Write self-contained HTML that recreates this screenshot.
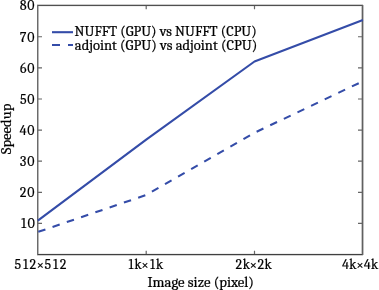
<!DOCTYPE html>
<html><head><meta charset="utf-8">
<style>
html,body{margin:0;padding:0;background:#fff;width:379px;height:290px;overflow:hidden}
svg{display:block}
text{font-family:"Caladea","Liberation Serif",serif;font-size:14px;fill:#000;font-variant-numeric:tabular-nums lining-nums;stroke:#000;stroke-width:0.2}
</style></head>
<body>
<svg width="379" height="290" viewBox="0 0 379 290">

<g shape-rendering="crispEdges">
<rect x="37" y="4" width="326" height="1" fill="#cccccc"/>
<rect x="37" y="5" width="326" height="1" fill="#505050"/>
<rect x="39" y="6" width="322" height="1" fill="#f0f0f0"/>
<rect x="37" y="253" width="326" height="1" fill="#ececec"/>
<rect x="37" y="254" width="326" height="1" fill="#404040"/>
<rect x="37" y="255" width="326" height="1" fill="#d0d0d0"/>
<rect x="37" y="5" width="1" height="250" fill="#6a6a6a"/>
<rect x="38" y="6" width="1" height="248" fill="#b8b8b8"/>
<rect x="361" y="6" width="1" height="248" fill="#c8c8c8"/>
<rect x="362" y="5" width="1" height="250" fill="#606060"/>
<rect x="363" y="5" width="1" height="250" fill="#c0c0c0"/>
</g>
<path d="M38 223.47H42.0M362 223.47H358.0M38 192.35H42.0M362 192.35H358.0M38 161.22H42.0M362 161.22H358.0M38 130.10H42.0M362 130.10H358.0M38 98.98H42.0M362 98.98H358.0M38 67.85H42.0M362 67.85H358.0M38 36.73H42.0M362 36.73H358.0M146.20 254V250.8M146.20 6V9.2M254.50 254V250.8M254.50 6V9.2" fill="none" stroke="#666" stroke-width="1.2"/>
<text x="19.40" y="228.28" textLength="15.60" lengthAdjust="spacingAndGlyphs">10</text>
<text x="19.30" y="197.15" textLength="15.30" lengthAdjust="spacingAndGlyphs">20</text>
<text x="19.30" y="166.03" textLength="15.30" lengthAdjust="spacingAndGlyphs">30</text>
<text x="19.30" y="134.90" textLength="15.30" lengthAdjust="spacingAndGlyphs">40</text>
<text x="19.30" y="103.78" textLength="15.30" lengthAdjust="spacingAndGlyphs">50</text>
<text x="19.30" y="72.65" textLength="15.30" lengthAdjust="spacingAndGlyphs">60</text>
<text x="19.30" y="41.53" textLength="15.30" lengthAdjust="spacingAndGlyphs">70</text>
<text x="19.30" y="10.40" textLength="15.30" lengthAdjust="spacingAndGlyphs">80</text>
<text x="13.80" y="268.60" textLength="53.00" lengthAdjust="spacingAndGlyphs">512<tspan dy="0.3" font-size="13">×</tspan><tspan dy="-0.3">512</tspan></text>
<text x="126.90" y="268.60" textLength="36.30" lengthAdjust="spacingAndGlyphs">1k<tspan dy="0.3" font-size="13">×</tspan><tspan dy="-0.3">1k</tspan></text>
<text x="235.00" y="268.60" textLength="36.80" lengthAdjust="spacingAndGlyphs">2k<tspan dy="0.3" font-size="13">×</tspan><tspan dy="-0.3">2k</tspan></text>
<text x="341.80" y="268.60" textLength="36.40" lengthAdjust="spacingAndGlyphs">4k<tspan dy="0.3" font-size="13">×</tspan><tspan dy="-0.3">4k</tspan></text>
<text x="147.50" y="287.30" textLength="106.50" lengthAdjust="spacingAndGlyphs">Image size (pixel)</text>
<text transform="translate(10.7 154.2) rotate(-90)" x="0" y="0" textLength="50.5" lengthAdjust="spacingAndGlyphs">Speedup</text>
<g fill="none" stroke="#344ca8" stroke-width="2.1" stroke-linejoin="round">
<polyline points="37.80,220.60 146.20,139.60 254.50,61.50 362.90,20.00"/>
<polyline points="37.80,232.00 146.20,195.00 254.50,132.80 362.90,81.20" stroke-dasharray="7.54 7.54" stroke-dashoffset="-0.5"/>
<path d="M52 32.2H73"/>
<path d="M52 45.0H60M68 45.0H73"/>
</g>
<text x="74.60" y="35.90" textLength="182.10" lengthAdjust="spacingAndGlyphs">NUFFT (GPU) vs NUFFT (CPU)</text>
<text x="74.80" y="49.70" textLength="182.60" lengthAdjust="spacingAndGlyphs">adjoint (GPU) vs adjoint (CPU)</text>
</svg>
</body></html>
